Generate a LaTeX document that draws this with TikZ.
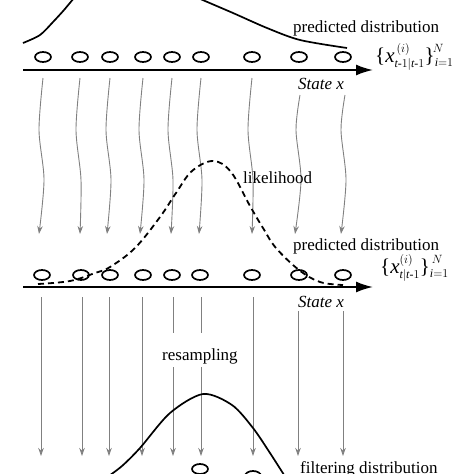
\documentclass[tikz,border=0pt]{standalone}
\usepackage{amsmath}
\usepackage{fontspec}
\setmainfont{Liberation Serif}
\usetikzlibrary{arrows.meta,shapes.geometric}
\newcommand{\bigtxt}[1]{\text{\fontsize{21}{24}\selectfont #1}}
\begin{document}
\begin{tikzpicture}[x=1pt,y=-1pt,
  particle/.style={draw,ellipse,line width=1.7pt,minimum width=16pt,minimum height=10pt,inner sep=0pt},
  axisline/.style={line width=1.8pt,-{Latex[length=17pt,width=11pt]}},
  curveline/.style={line width=1.7pt},
  likeline/.style={line width=1.8pt,dash pattern=on 6pt off 4pt},
  flowarrow/.style={draw=black!50,line width=0.9pt,-{Stealth[length=8pt,width=5.5pt]}},
  flowline/.style={draw=black!50,line width=0.9pt},
  lab/.style={font=\fontsize{17}{20}\selectfont,inner sep=0pt,anchor=base west}]
\useasboundingbox (0,0) rectangle (474,474);

% ---- top row ----
\coordinate (ax1s) at (23,70);
\coordinate (ax1e) at (373,70);
\draw[axisline] (ax1s) -- (ax1e);
\foreach \n/\x in {1/43,2/80,3/110,4/143,5/172,6/201,7/252,8/299,9/343}
  \node[particle] (p\n) at (\x,57) {};
\draw[curveline] plot[smooth] coordinates {(23,43) (40,35) (53,22) (64,10) (74,-2)};
\draw[curveline] plot[smooth] coordinates {(198,-2) (233,13) (267,28) (300,40) (347,48)};
\node[lab] (pd1) at (293,32) {predicted distribution};
\node[lab,anchor=west] (set1) at (375,57) {$\bigtxt{\{\textit{x}}^{\,(i)}_{\textit{t}\text{-}1|\textit{t}\text{-}1}\bigtxt{\}}^{\!N}_{\textit{i}=1}$};
\node[lab,font=\fontsize{17}{20}\selectfont\itshape] (sx1) at (298,89) {State x};

% ---- wavy flow arrows ----
\foreach \n/\xs/\xe/\ys in {1/43/39/78,2/80/80/78,3/110/107/78,4/143/140/78,5/172/171/78,6/201/199/78,7/252/252/78,8/300/295/95,9/345/341/95}{
  \coordinate (ws\n) at (\xs,\ys);
  \coordinate (we\n) at (\xe,234);
  \draw[flowarrow] plot[smooth] coordinates {(ws\n) (\xs-4,130) (\xs+1,180) (we\n)};
}

% ---- middle row ----
\coordinate (ax2s) at (23,287);
\coordinate (ax2e) at (373,287);
\draw[axisline] (ax2s) -- (ax2e);
\foreach \n/\x in {1/42,2/81,3/110,4/143,5/172,6/200,7/252,8/299,9/343}
  \node[particle] (q\n) at (\x,275) {};
\draw[likeline] plot[smooth,tension=0.6] coordinates {(38,284) (70,281) (95,273) (110,267) (135,248) (160,217) (176,193) (192,171) (213,161) (231,172) (250,206) (263,228) (276,248) (299,270) (320,282) (343,285)};
\node[lab] (lk) at (243,183) {likelihood};
\node[lab] (pd2) at (293,250) {predicted distribution};
\node[lab,anchor=west] (set2) at (380,268) {$\bigtxt{\{\textit{x}}^{(i)}_{\textit{t}|\textit{t}\text{-}1}\bigtxt{\}}^{\,N}_{\textit{i}=1}$};
\node[lab,font=\fontsize{17}{20}\selectfont\itshape] (sx2) at (298,307) {State x};

% ---- straight resampling arrows ----
\node[lab] (rs) at (162,360) {resampling};
\foreach \n/\x/\ys in {1/41/297,2/82/297,3/109/297,4/142/297,7/253/297,8/298/311,9/343/311}{
  \coordinate (ls\n) at (\x,\ys);
  \coordinate (le\n) at (\x,456);
  \draw[flowarrow] (ls\n) -- (le\n);
}
\foreach \n/\x in {5/173,6/201}{
  \coordinate (ls\n) at (\x,297);
  \coordinate (lm\n) at (\x,333);
  \coordinate (ln\n) at (\x,367);
  \coordinate (le\n) at (\x,456);
  \draw[flowline] (ls\n) -- (lm\n);
  \draw[flowarrow] (ln\n) -- (le\n);
}

% ---- bottom ----
\draw[curveline] plot[smooth] coordinates {(106,478) (122,466) (140,448) (170,413) (203,394) (232,405) (253,428) (270,453) (286,478)};
\node[particle] (r1) at (200,469) {};
\node[particle] (r2) at (200,479) {};
\node[particle] (r3) at (253,476) {};
\node[lab] (fd) at (300,473) {filtering distribution};
\end{tikzpicture}
\end{document}
